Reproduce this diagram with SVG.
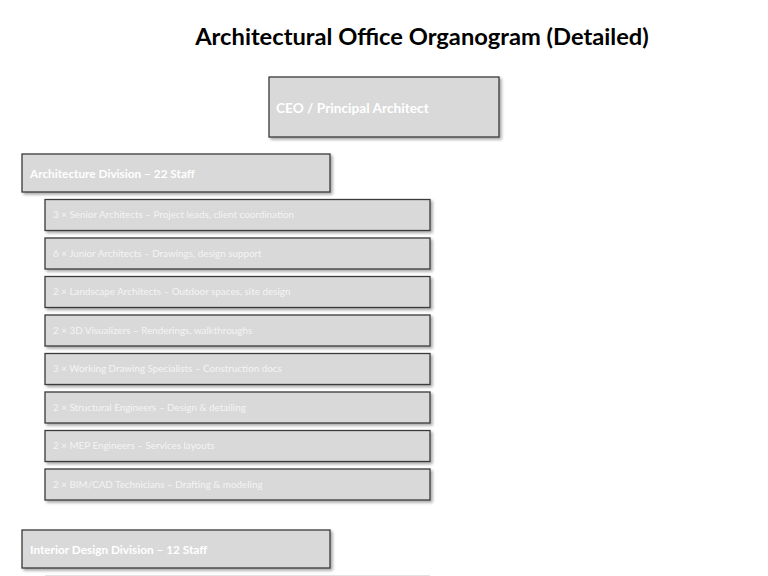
<svg xmlns="http://www.w3.org/2000/svg" width="768" height="576" viewBox="0 0 768 576">
<defs>
<filter id="sh" x="-10%" y="-30%" width="120%" height="160%">
<feGaussianBlur in="SourceAlpha" stdDeviation="1.5"/>
<feOffset dx="2" dy="2" result="b"/>
<feComponentTransfer><feFuncA type="linear" slope="0.35"/></feComponentTransfer>
<feMerge><feMergeNode/><feMergeNode in="SourceGraphic"/></feMerge>
</filter>
<style>
.box{fill:#d9d9d9;stroke:#3a3a3a;stroke-width:1.3;filter:url(#sh)}
.t{font-family:Lato,"Open Sans",sans-serif;fill:#ffffff}
.hd{font-weight:bold}
.title{font-family:Lato,"Open Sans",sans-serif;font-weight:bold;font-size:23.7px;fill:#000}
.role{font-size:9.85px;fill:#f4f4f4}
</style>
</defs>
<rect width="768" height="576" fill="#ffffff"/>
<text class="title" x="422" y="44.5" text-anchor="middle">Architectural Office Organogram (Detailed)</text>
<g id="connectors"></g>
<g id="ceo"><rect class="box" x="269" y="77" width="230" height="60"/><text class="t hd" x="276" y="112.5" font-size="13.7">CEO / Principal Architect</text></g>
<g id="arch-div"><rect class="box" x="22" y="154" width="308" height="38"/><text class="t hd" x="30" y="177.5" font-size="11.8">Architecture Division – 22 Staff</text></g>
<g id="senior"><rect class="box" x="45" y="199.5" width="385" height="31"/><text class="t role" x="53" y="218.3">3 × Senior Architects – Project leads, client coordination</text></g>
<g id="junior"><rect class="box" x="45" y="238" width="385" height="31"/><text class="t role" x="53" y="256.8">6 × Junior Architects – Drawings, design support</text></g>
<g id="landscape"><rect class="box" x="45" y="276.5" width="385" height="31"/><text class="t role" x="53" y="295.3">2 × Landscape Architects – Outdoor spaces, site design</text></g>
<g id="visualizers"><rect class="box" x="45" y="315" width="385" height="31"/><text class="t role" x="53" y="333.8">2 × 3D Visualizers – Renderings, walkthroughs</text></g>
<g id="working"><rect class="box" x="45" y="353.5" width="385" height="31"/><text class="t role" x="53" y="372.3">3 × Working Drawing Specialists – Construction docs</text></g>
<g id="structural"><rect class="box" x="45" y="392" width="385" height="31"/><text class="t role" x="53" y="410.8">2 × Structural Engineers – Design &amp; detailing</text></g>
<g id="mep"><rect class="box" x="45" y="430.5" width="385" height="31"/><text class="t role" x="53" y="449.3">2 × MEP Engineers – Services layouts</text></g>
<g id="bim"><rect class="box" x="45" y="469" width="385" height="31"/><text class="t role" x="53" y="487.8">2 × BIM/CAD Technicians – Drafting &amp; modeling</text></g>
<g id="interior-div"><rect class="box" x="22" y="530" width="308" height="38"/><text class="t hd" x="30" y="553.5" font-size="11.8">Interior Design Division – 12 Staff</text></g>
<g id="interior-next"><line x1="45" y1="575.5" x2="430" y2="575.5" stroke="#e2e2e2" stroke-width="1"/></g>
</svg>
